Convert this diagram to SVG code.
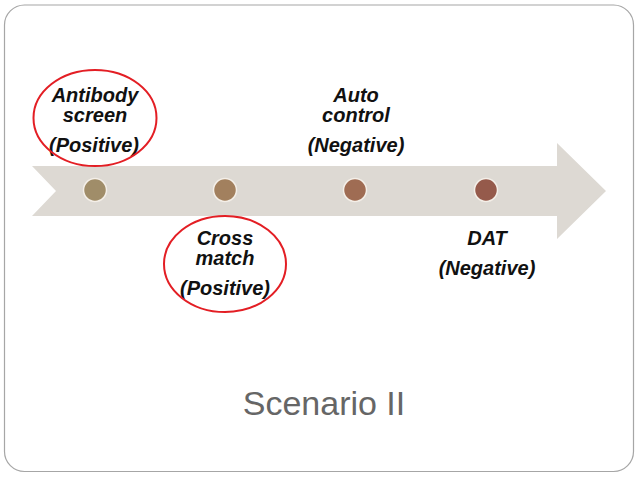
<svg xmlns="http://www.w3.org/2000/svg" width="638" height="478" viewBox="0 0 638 478">
<style>
.lbl{font-family:"Liberation Sans",Arial,sans-serif;font-weight:bold;font-style:italic;font-size:20px;fill:#111;text-anchor:middle}
.dot{stroke:#f4efe8;stroke-width:1.5}
.ring{fill:none;stroke:#e31e24;stroke-width:2}
.title{font-family:"Liberation Sans",Arial,sans-serif;font-size:34px;fill:#666;text-anchor:middle}
</style>
<rect x="0" y="0" width="638" height="478" fill="#fff"/>
<rect x="4.5" y="5" width="629" height="466.5" rx="20" ry="20" fill="#fff" stroke="#a6a6a6" stroke-width="1.2"/>
<g id="connectors">
<polygon points="32,166 557,166 557,143 606,191 557,239 557,216 32,216 56,191" fill="#ddd9d3"/>
</g>
<g id="node-antibody">
<circle class="dot" cx="95" cy="190" r="11.5" fill="#a08d69"/>
<text class="lbl" x="95" y="102">Antibody</text>
<text class="lbl" x="95" y="122">screen</text>
<text class="lbl" x="94" y="152">(Positive)</text>
<ellipse class="ring" cx="95" cy="118" rx="61.5" ry="48"/>
</g>
<g id="node-crossmatch">
<circle class="dot" cx="225" cy="190" r="11.5" fill="#a2805e"/>
<text class="lbl" x="225" y="245">Cross</text>
<text class="lbl" x="225" y="265">match</text>
<text class="lbl" x="225" y="295">(Positive)</text>
<ellipse class="ring" cx="225" cy="264" rx="61" ry="48"/>
</g>
<g id="node-auto">
<circle class="dot" cx="355" cy="190" r="11.5" fill="#9f6c53"/>
<text class="lbl" x="356" y="102">Auto</text>
<text class="lbl" x="356" y="122">control</text>
<text class="lbl" x="356" y="152">(Negative)</text>
</g>
<g id="node-dat">
<circle class="dot" cx="486" cy="190" r="11.5" fill="#955a4b"/>
<text class="lbl" x="487" y="245">DAT</text>
<text class="lbl" x="487" y="275">(Negative)</text>
</g>
<text class="title" x="324" y="415">Scenario II</text>
</svg>
